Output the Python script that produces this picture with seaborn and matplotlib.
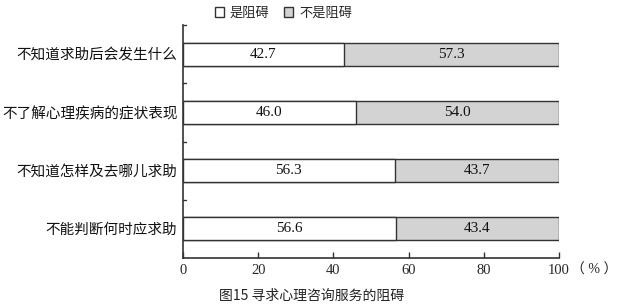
import matplotlib
matplotlib.use("Agg")
import matplotlib.pyplot as plt
import seaborn as sns
import pandas as pd
import numpy as np
from matplotlib.patches import Patch
from matplotlib.transforms import offset_copy

categories = ["不知道求助后会发生什么", "不了解心理疾病的症状表现", "不知道怎样及去哪儿求助", "不能判断何时应求助"]
is_barrier = [42.7, 46.0, 56.3, 56.6]
not_barrier = [57.3, 54.0, 43.7, 43.4]
series_names = ["是阻碍", "不是阻碍"]
xticks = [0, 20, 40, 60, 80, 100]
xtick_labels = ["0", "20", "40", "60", "80", "100"]
unit_label = "（ % ）"
caption = "图15 寻求心理咨询服务的阻碍"

sns.set_theme(style="ticks")
plt.rcParams['font.family'] = ['Noto Sans CJK SC', 'DejaVu Sans']

df = pd.DataFrame({"cat": categories, "yes": is_barrier, "no": not_barrier})
df["total"] = df["yes"] + df["no"]

fig = plt.figure(figsize=(6.19, 3.06), dpi=100)
ax = fig.add_axes([0.2956, 0.157, 0.903 - 0.2956, 0.918 - 0.157])

edge = "#333333"
sns.barplot(data=df, y="cat", x="total", color="#d3d3d3", edgecolor=edge,
            linewidth=1.0, width=0.39, saturation=1, ax=ax, orient="h")
sns.barplot(data=df, y="cat", x="yes", color="white", edgecolor=edge,
            linewidth=1.0, width=0.39, saturation=1, ax=ax, orient="h")

serif = ["Liberation Serif", "DejaVu Serif"]
for i, (y, n) in enumerate(zip(is_barrier, not_barrier)):
    ax.text(y / 2, i, f"{y:.1f}", ha="center", va="center", fontsize=11, family=serif, color="#111111")
    ax.text(y + n / 2, i, f"{n:.1f}", ha="center", va="center", fontsize=11, family=serif, color="#111111")

ax.set_xlim(0, 100)
ax.set_ylim(len(categories) - 0.5, -0.5)
ax.set_xticks(xticks)
ax.set_xticklabels(xtick_labels, family=serif, fontsize=10.5)
ax.set_yticks(range(len(categories)))
ax.set_yticklabels(categories, fontsize=10.5, color="#111111")
ax.tick_params(axis="y", length=0, pad=4)
ax.tick_params(axis="x", direction="in", length=4, width=1, color=edge, pad=4)
ax.set_xlabel("")
ax.set_ylabel("")

# unit label after the last tick label
tr = offset_copy(ax.get_xaxis_transform(), fig=fig, x=9, y=0, units="points")
ax.text(xticks[-1], -0.05, unit_label, transform=tr, ha="left", va="center",
        fontsize=10, family=['Liberation Serif', 'Noto Sans CJK SC'], color="#222222")

# boundary ticks on y axis
for b in np.arange(-0.5, len(categories), 1.0)[:-1]:
    ax.plot([0, 0.8], [b, b], color=edge, lw=1, clip_on=False)

sns.despine(ax=ax)
for s in ["left", "bottom"]:
    ax.spines[s].set_color(edge)
    ax.spines[s].set_linewidth(1.2)

handles = [Patch(facecolor="white", edgecolor=edge, label=series_names[0]),
           Patch(facecolor="#d3d3d3", edgecolor=edge, label=series_names[1])]
fig.legend(handles=handles, loc="center", bbox_to_anchor=(283.5 / 619, 1 - 13 / 306),
           ncol=2, frameon=False, fontsize=9.5, handlelength=0.7, handleheight=0.7,
           handletextpad=0.45, columnspacing=1.1, borderpad=0)

fig.text(312 / 619, 1 - 296 / 306, caption, ha="center", va="center", fontsize=10, color="#222222")

fig.savefig("out.png", dpi=100)
